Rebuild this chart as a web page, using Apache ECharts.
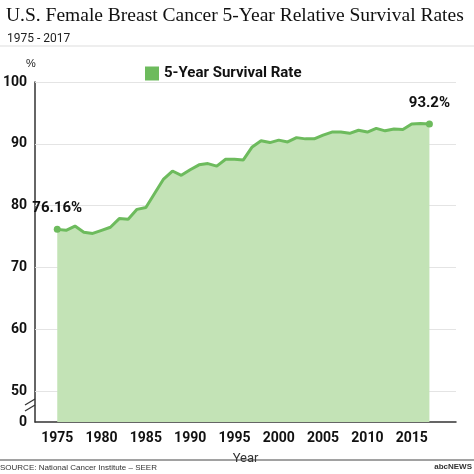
<!DOCTYPE html>
<html>
<head>
<meta charset="utf-8">
<style>html,body{margin:0;padding:0;background:#fff}#c{width:474px;height:474px}</style>
<script src="https://cdn.jsdelivr.net/npm/echarts@6/dist/echarts.min.js"></script>
</head>
<body>
<div id="c"></div>
<script>
// survival rate (%) per diagnosis year
const years = [1975, 1976, 1977, 1978, 1979, 1980, 1981, 1982, 1983, 1984, 1985, 1986, 1987, 1988, 1989,
  1990, 1991, 1992, 1993, 1994, 1995, 1996, 1997, 1998, 1999, 2000, 2001, 2002, 2003, 2004, 2005,
  2006, 2007, 2008, 2009, 2010, 2011, 2012, 2013, 2014, 2015, 2016, 2017]
const rates = [76.16, 76.0, 76.7, 75.7, 75.5, 76.0, 76.5, 77.9, 77.8, 79.4, 79.7, 82.0, 84.3, 85.6, 84.9,
  85.8, 86.6, 86.8, 86.4, 87.5, 87.5, 87.4, 89.5, 90.5, 90.2, 90.6, 90.3, 91.0, 90.8, 90.8, 91.4,
  91.9, 91.9, 91.7, 92.2, 91.9, 92.5, 92.1, 92.4, 92.3, 93.2, 93.3, 93.2]
const gridValues = [50, 60, 70, 80, 90, 100]

const chart = echarts.init(document.getElementById("c"))
const last = rates.length - 1

chart.setOption({
  animation: false,
  textStyle: { fontFamily: "Roboto, Arial, sans-serif" },
  title: [
    { text: "U.S. Female Breast Cancer 5-Year Relative Survival Rates", left: 1, top: 1,
      textStyle: { fontFamily: "Liberation Serif", fontWeight: "normal", fontSize: 19.5, color: "#111" } },
    { text: "1975 - 2017", left: 2, top: 28,
      textStyle: { fontFamily: "Roboto", fontWeight: "normal", fontSize: 12, color: "#222" } },
  ],
  legend: {
    top: 61, left: 140, itemWidth: 14, itemHeight: 14, icon: "rect",
    textStyle: { fontSize: 15, fontWeight: "bold", color: "#111" },
    data: ["5-Year Survival Rate"],
  },
  grid: { left: 29.5, right: 18, top: 82, bottom: 52 },
  xAxis: {
    type: "value", min: 1972.5, max: 2020, interval: 2.5,
    name: "Year", nameLocation: "middle", nameGap: 30,
    nameTextStyle: { fontSize: 13, color: "#333" },
    axisLine: { lineStyle: { color: "#333", width: 1.5 } },
    axisTick: { show: false },
    splitLine: { show: false },
    axisLabel: {
      fontSize: 14, fontWeight: "bold", color: "#111", margin: 9,
      formatter: v => (v % 5 === 0 && v < 2020 ? String(v) : ""),
    },
  },
  yAxis: {
    type: "value", min: 45, max: 100, interval: 5,
    axisLine: { show: true, lineStyle: { color: "#333", width: 1.5 } },
    axisTick: { show: false },
    splitLine: { show: false },
    axisLabel: {
      fontSize: 14, fontWeight: "bold", color: "#111", margin: 8,
      formatter: v => (v === 45 ? "0" : v % 10 === 0 ? String(v) : ""),
    },
  },
  graphic: [
    { type: "text", left: 26, top: 58, style: { text: "%", fontSize: 11, fill: "#222" } },
    { type: "rect", shape: { x: 24, y: 400, width: 12, height: 10 }, style: { fill: "#fff" } },
    { type: "polyline", shape: { points: [[25, 405], [35, 399]] }, style: { stroke: "#333", lineWidth: 1.2 } },
    { type: "polyline", shape: { points: [[25, 411], [35, 405]] }, style: { stroke: "#333", lineWidth: 1.2 } },
    { type: "line", shape: { x1: 0, y1: 460, x2: 474, y2: 460 }, style: { stroke: "#444", lineWidth: 1 } },
    { type: "line", shape: { x1: 0, y1: 46, x2: 474, y2: 46 }, style: { stroke: "#ddd", lineWidth: 1 } },
    { type: "text", left: 0, top: 464, style: { text: "SOURCE: National Cancer Institute – SEER", fontSize: 8, fill: "#333" } },
    { type: "text", right: 2, top: 463, style: { text: "abcNEWS", fontSize: 8, fontWeight: "bold", fill: "#333" } },
  ],
  series: [{
    name: "5-Year Survival Rate",
    type: "line",
    data: years.map((y, i) => ({
      value: [y, rates[i]],
      symbol: i === 0 || i === last ? "circle" : "none",
      symbolSize: 7,
      label: {
        show: i === 0 || i === last,
        position: "top", distance: 10,
        fontSize: 15, fontWeight: "bold", color: "#111",
        formatter: i === 0 ? "76.16%" : "93.2%",
      },
    })),
    showSymbol: true,
    color: "#6dbb5d",
    lineStyle: { width: 3, color: "#6dbb5d" },
    itemStyle: { color: "#6dbb5d" },
    areaStyle: { color: "#c3e3b6", opacity: 1 },
    z: 3,
    markLine: {
      silent: true, symbol: "none", label: { show: false },
      lineStyle: { color: "#e4e4e4", type: "solid", width: 1 },
      data: gridValues.map(v => ({ yAxis: v })),
      z: 1,
    },
  }],
})
</script>
</body>
</html>
